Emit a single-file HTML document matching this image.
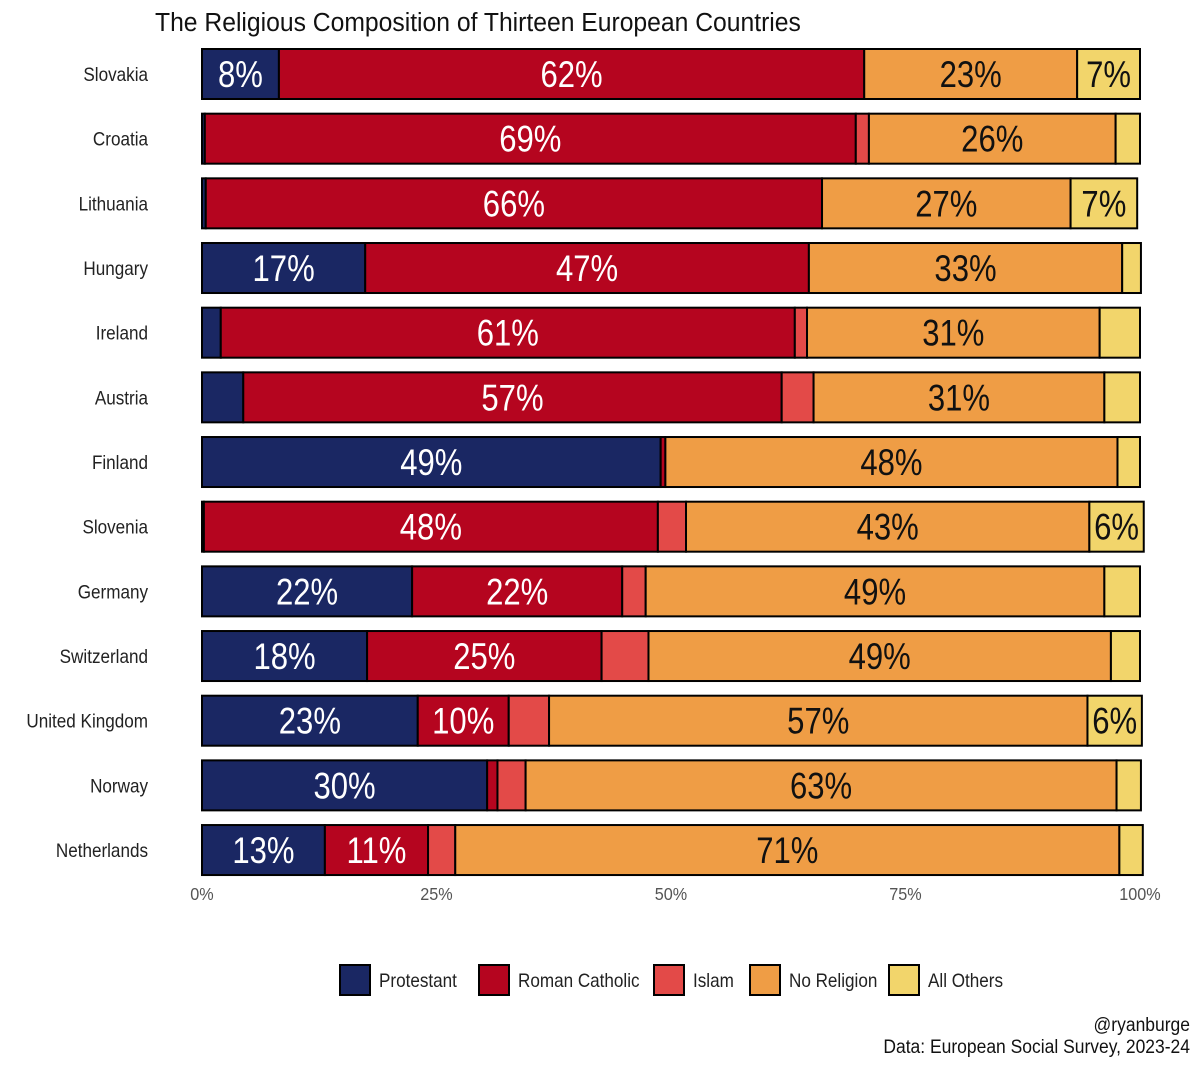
<!DOCTYPE html>
<html><head><meta charset="utf-8">
<style>
html,body{margin:0;padding:0;background:#fff;}
svg{display:block;font-family:"Liberation Sans",sans-serif;}
</style></head>
<body>
<svg id="chart" width="1200" height="1067" viewBox="0 0 1200 1067">
<text transform="translate(155,31) scale(0.95,1)" font-size="26" fill="#111">The Religious Composition of Thirteen European Countries</text>
<g id="bars"></g>
<g id="axis"></g>
<g id="legend"></g>
<text transform="translate(1190,1031) scale(0.92,1)" font-size="19" text-anchor="end" fill="#111">@ryanburge</text>
<text transform="translate(1190,1053) scale(0.92,1)" font-size="19" text-anchor="end" fill="#111">Data: European Social Survey, 2023-24</text>
</svg>
<script>
const countries=["Slovakia","Croatia","Lithuania","Hungary","Ireland","Austria","Finland","Slovenia","Germany","Switzerland","United Kingdom","Norway","Netherlands"];
const seriesNames=["Protestant","Roman Catholic","Islam","No Religion","All Others"];
const protestant=[8.2,0.3,0.4,17.4,2.0,4.4,48.9,0.2,22.4,17.6,23.0,30.4,13.1];
const catholic=[62.4,69.4,65.7,47.3,61.2,57.4,0.5,48.4,22.4,25.0,9.7,1.1,11.0];
const islam=[0,1.4,0,0,1.3,3.4,0,3.0,2.5,5.0,4.3,3.0,2.9];
const noReligion=[22.7,26.3,26.5,33.4,31.2,31.0,48.2,43.0,48.9,49.3,57.4,63.0,70.8];
const allOthers=[6.7,2.6,7.1,2.0,4.3,3.8,2.4,5.8,3.8,3.1,5.8,2.6,2.5];
const ticks=[0,25,50,75,100];
const colors=["#1a2763","#b5051f","#e34a48","#ef9d45","#f2d56b"];
const textColors=["#fff","#fff","#fff","#111","#111"];
const NS="http://www.w3.org/2000/svg";
const x=v=>202+v*9.38;
const yc=i=>74+i*64.67;
const barH=50;
const bars=document.getElementById("bars");
const series=[protestant,catholic,islam,noReligion,allOthers];
function place(t,px,py,s){t.setAttribute("transform","translate("+px+","+py+") scale("+s+",1)");}
countries.forEach((c,i)=>{
  const lab=document.createElementNS(NS,"text");
  place(lab,148,yc(i)+7,0.9);
  lab.setAttribute("text-anchor","end");lab.setAttribute("font-size","19");lab.setAttribute("fill","#222");
  lab.textContent=c;
  
  
  bars.appendChild(lab);
  let cum=0;
  series.forEach((s,k)=>{
    const v=s[i];
    if(v<=0){return;}
    const r=document.createElementNS(NS,"rect");
    r.setAttribute("x",x(cum));r.setAttribute("y",yc(i)-barH/2);
    r.setAttribute("width",x(cum+v)-x(cum));r.setAttribute("height",barH);
    r.setAttribute("fill",colors[k]);r.setAttribute("stroke","#000");r.setAttribute("stroke-width","2");
    
    
    bars.appendChild(r);
    if(v>=5.5){
      const t=document.createElementNS(NS,"text");
      place(t,(x(cum)+x(cum+v))/2,yc(i)+13,0.84);
      t.setAttribute("text-anchor","middle");t.setAttribute("font-size","37");t.setAttribute("fill",textColors[k]);
      t.textContent=Math.round(v)+"%";
      
      
      bars.appendChild(t);
    }
    cum+=v;
  });
});
const axis=document.getElementById("axis");
ticks.forEach(tv=>{
  const t=document.createElementNS(NS,"text");
  place(t,x(tv),900,0.9);
  t.setAttribute("text-anchor","middle");
  t.setAttribute("font-size","18");t.setAttribute("fill","#555");
  t.textContent=tv+"%";
  
  
  axis.appendChild(t);
});
const legend=document.getElementById("legend");
const lx=[340,479,654,750,889];
seriesNames.forEach((n,k)=>{
  const r=document.createElementNS(NS,"rect");
  r.setAttribute("x",lx[k]);r.setAttribute("y",965);r.setAttribute("width",30);r.setAttribute("height",30);
  r.setAttribute("fill",colors[k]);r.setAttribute("stroke","#000");r.setAttribute("stroke-width","2");
  
  
  legend.appendChild(r);
  const t=document.createElementNS(NS,"text");
  place(t,lx[k]+39,987,0.9);
  t.setAttribute("font-size","19");t.setAttribute("fill","#222");
  t.textContent=n;
  
  
  legend.appendChild(t);
});
</script>
</body></html>
